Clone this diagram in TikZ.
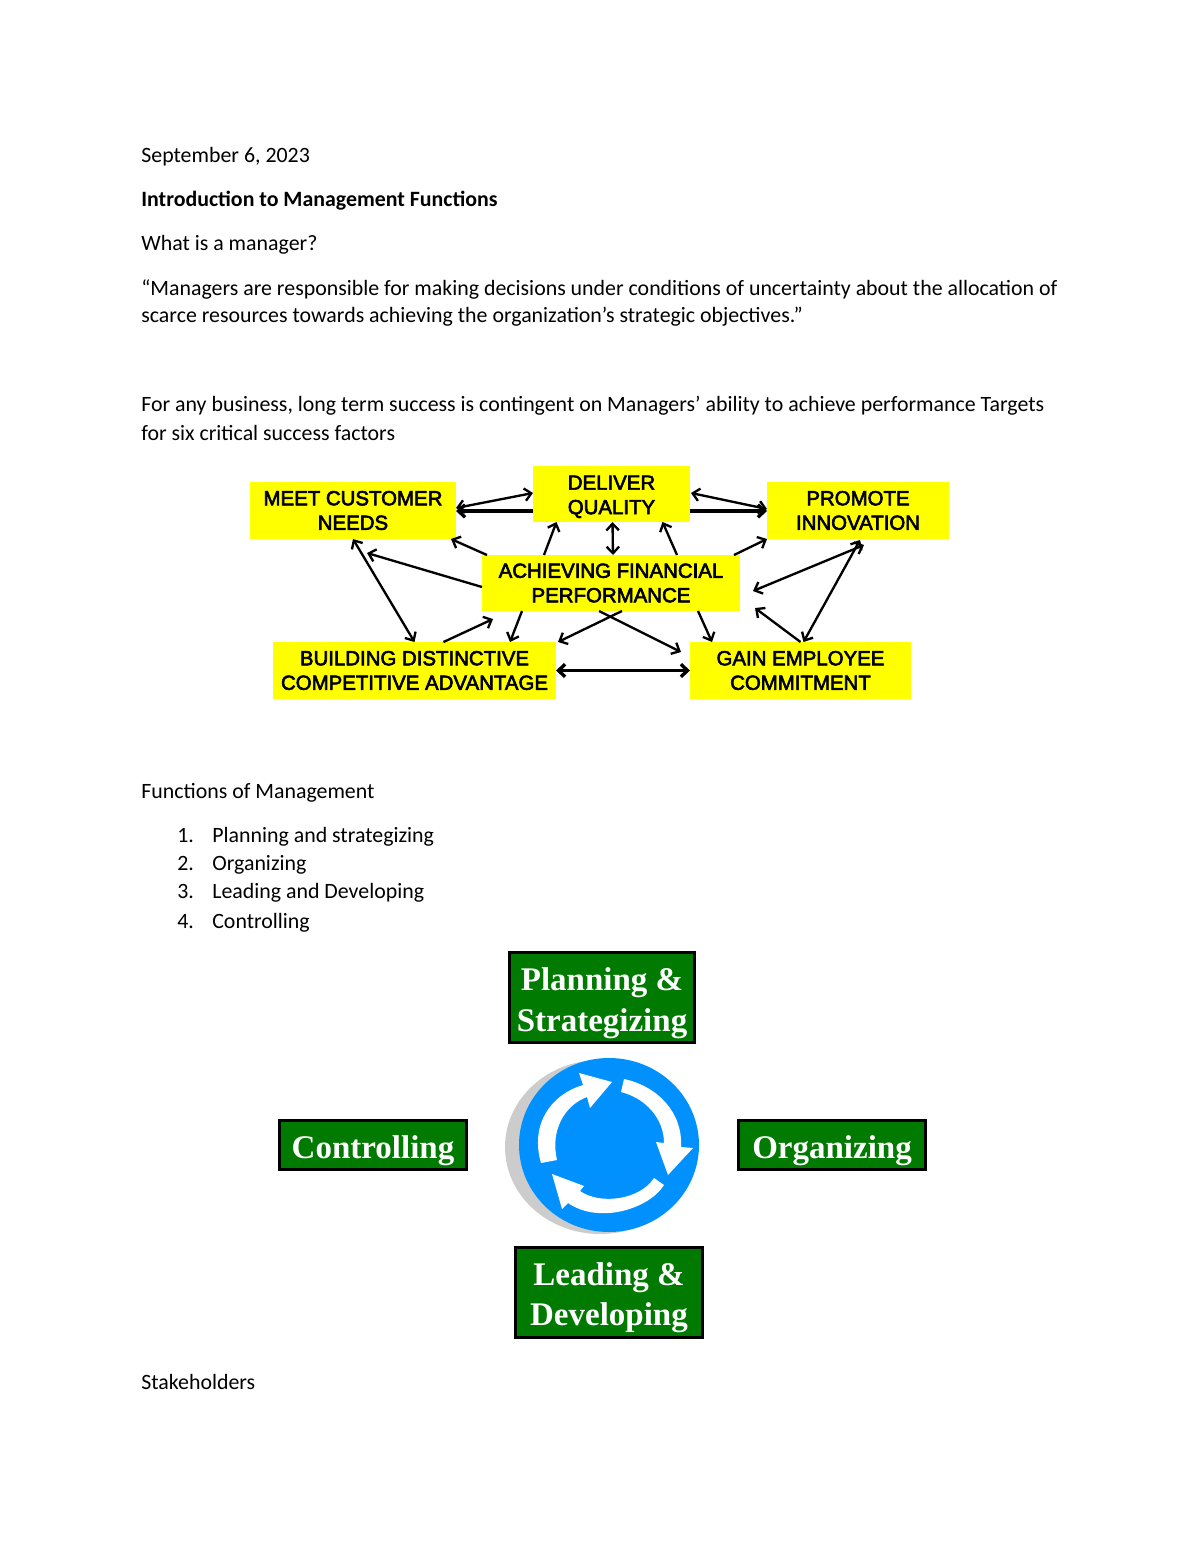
\documentclass[tikz,border=0pt]{standalone}
\usepackage{fontspec}
\usetikzlibrary{arrows.meta}
\setmainfont{Carlito}
\newfontfamily\yellowfont[FakeBold=3]{Liberation Sans}
\newfontfamily\greenfont{Liberation Serif}

\tikzstyle{bodytext} = [anchor=base west, inner sep=0pt, font=\fontsize{13.12}{15}\selectfont]
\tikzstyle{yellowbox} = [rectangle, fill=boxyellow, inner sep=0pt, outer sep=0pt, align=center, text=black, font=\yellowfont\fontsize{12.25}{14.7}\selectfont]
\tikzstyle{greenbox} = [rectangle, fill=boxgreen, draw=black, line width=1.8pt, inner sep=0pt, outer sep=0pt, align=center, text=white, font=\greenfont\bfseries\fontsize{19.8}{24.4}\selectfont]
\tikzstyle{arrow} = [line width=1.4pt,->,>={Straight Barb[length=4pt,width=7.5pt]}]
\tikzstyle{twoway} = [line width=1.4pt,<->,>={Straight Barb[length=4pt,width=7.5pt]}]
\tikzstyle{heavy} = [line width=2pt]

\definecolor{boxyellow}{RGB}{255,255,0}
\definecolor{boxgreen}{RGB}{0,122,0}
\definecolor{discblue}{RGB}{0,145,255}
\definecolor{discgrey}{RGB}{204,204,204}

\begin{document}
\begin{tikzpicture}[x=0.6pt,y=-0.6pt]
        \useasboundingbox (0,0) rectangle (1200,1553);

        % Page text
        \node (dateLine) [bodytext] at (141,162) {September 6, 2023};
        \node (titleLine) [bodytext, font=\fontsize{13.12}{15}\selectfont\bfseries] at (141,206) {Introduction to Management Functions};
        \node (questionLine) [bodytext] at (141,250) {What is a manager?};
        \node (quoteOne) [bodytext] at (141,295) {“Managers are responsible for making decisions under conditions of uncertainty about the allocation of};
        \node (quoteTwo) [bodytext] at (141,322) {scarce resources towards achieving the organization’s strategic objectives.”};
        \node (successOne) [bodytext] at (141,411) {For any business, long term success is contingent on Managers’ ability to achieve performance Targets};
        \node (successTwo) [bodytext] at (141,440) {for six critical success factors};
        \node (functionsLine) [bodytext] at (141,798) {Functions of Management};
        \node (numOne) [bodytext] at (177,842) {1.};
        \node (itemOne) [bodytext] at (212,842) {Planning and strategizing};
        \node (numTwo) [bodytext] at (177,870) {2.};
        \node (itemTwo) [bodytext] at (212,870) {Organizing};
        \node (numThree) [bodytext] at (177,898) {3.};
        \node (itemThree) [bodytext] at (212,898) {Leading and Developing};
        \node (numFour) [bodytext] at (177,928) {4.};
        \node (itemFour) [bodytext] at (212,928) {Controlling};
        \node (stakeholdersLine) [bodytext] at (141,1389) {Stakeholders};

        % Success factors
        \node (customerNeeds) [yellowbox, minimum width=123.6pt, minimum height=34.2pt] at (353,510.5) {MEET CUSTOMER\\NEEDS};
        \node (deliverQuality) [yellowbox, minimum width=94.2pt, minimum height=33.6pt, text height=26.5pt] at (611.5,494) {DELIVER\\QUALITY};
        \node (promoteInnovation) [yellowbox, minimum width=109.2pt, minimum height=34.2pt] at (858,510.5) {PROMOTE\\INNOVATION};
        \node (financialPerformance) [yellowbox, minimum width=154.8pt, minimum height=33.6pt] at (611,583) {ACHIEVING FINANCIAL\\PERFORMANCE};
        \node (distinctiveAdvantage) [yellowbox, minimum width=169.8pt, minimum height=34.2pt] at (414.5,670.5) {BUILDING DISTINCTIVE\\COMPETITIVE ADVANTAGE};
        \node (employeeCommitment) [yellowbox, minimum width=132.6pt, minimum height=34.2pt] at (800.5,670.5) {GAIN EMPLOYEE\\COMMITMENT};

        % Arrows between the factors
        \draw [twoway] ([shift={(0,-2.5)}]customerNeeds.east) -- ([shift={(0,-1)}]deliverQuality.west);
        \draw [arrow, heavy] ([shift={(0,17)}]deliverQuality.west) -- ([shift={(0,0.5)}]customerNeeds.east);
        \draw [twoway] ([shift={(1,-1)}]deliverQuality.east) -- ([shift={(0,-1.5)}]promoteInnovation.west);
        \draw [arrow, heavy] ([shift={(0,17)}]deliverQuality.east) -- ([shift={(0,0.5)}]promoteInnovation.west);
        \draw [arrow] ([shift={(5,0)}]financialPerformance.north west) -- ([shift={(-5,0)}]customerNeeds.south east);
        \draw [arrow] ([shift={(0,4)}]financialPerformance.west) -- ([shift={(14,14)}]customerNeeds.south);
        \draw [twoway] (customerNeeds.south) -- (distinctiveAdvantage.north);
        \draw [arrow] ([shift={(29,0)}]distinctiveAdvantage.north) -- ([shift={(11,8)}]financialPerformance.south west);
        \draw [arrow] ([shift={(-89,0)}]financialPerformance.south) -- ([shift={(-46,0)}]distinctiveAdvantage.north east);
        \draw [arrow] ([shift={(-67,0)}]financialPerformance.north) -- ([shift={(-55,0)}]deliverQuality.south);
        \draw [twoway] ([shift={(1,0)}]deliverQuality.south) -- ([shift={(2,0)}]financialPerformance.north);
        \draw [arrow] ([shift={(66,0)}]financialPerformance.north) -- ([shift={(51,0)}]deliverQuality.south);
        \draw [arrow] ([shift={(-6,0)}]financialPerformance.north east) -- (promoteInnovation.south west);
        \draw [twoway] ([shift={(6,6)}]promoteInnovation.south) -- ([shift={(13,8)}]financialPerformance.east);
        \draw [twoway] ([shift={(2,1)}]promoteInnovation.south) -- ([shift={(3,0)}]employeeCommitment.north);
        \draw [arrow] (employeeCommitment.north) -- ([shift={(15,-3)}]financialPerformance.south east);
        \draw [arrow] ([shift={(87,0)}]financialPerformance.south) -- ([shift={(22,0)}]employeeCommitment.north west);
        \draw [arrow] ([shift={(-12,0)}]financialPerformance.south) -- ([shift={(-9,10)}]employeeCommitment.north west);
        \draw [arrow] ([shift={(11,0)}]financialPerformance.south) -- ([shift={(2,0)}]distinctiveAdvantage.north east);
        \draw [twoway, heavy] (distinctiveAdvantage.east) -- (employeeCommitment.west);

        % Management functions
        \node (planningBox) [greenbox, minimum width=111pt, minimum height=54pt, text height=44.8pt] at (602,997.5) {Planning \&\\Strategizing};
        \node (controllingBox) [greenbox, minimum width=112pt, minimum height=29.4pt, text height=20.4pt] at (373,1145) {Controlling};
        \node (organizingBox) [greenbox, minimum width=112pt, minimum height=29.4pt, text height=20.4pt] at (832,1145) {Organizing};
        \node (leadingBox) [greenbox, minimum width=112pt, minimum height=54pt, text height=44.8pt] at (609,1292) {Leading \&\\Developing};

        % Disc with its three arrows
        \fill [discgrey] (600,1147) ellipse (95 and 87);
        \fill [discblue] (609,1145) ellipse (90 and 87);
        \fill [white] (624,1079) .. controls (657,1086) and (683,1112) .. (681,1147) -- (693,1148) -- (668,1175) -- (656,1142) -- (664,1143) .. controls (664,1118) and (645,1098) .. (621,1092) -- cycle;
        \fill [white] (664,1185) .. controls (650,1208) and (600,1225) .. (568,1203) -- (562,1209) -- (552,1174) -- (584,1186) -- (580,1191) .. controls (600,1205) and (640,1200) .. (654,1178) -- cycle;
        \fill [white] (541,1163) .. controls (530,1125) and (550,1095) .. (583,1085) -- (579,1073) -- (612,1082) -- (590,1108) -- (587,1097) .. controls (565,1105) and (550,1130) .. (557,1160) -- cycle;
    \end{tikzpicture}
\end{document}
